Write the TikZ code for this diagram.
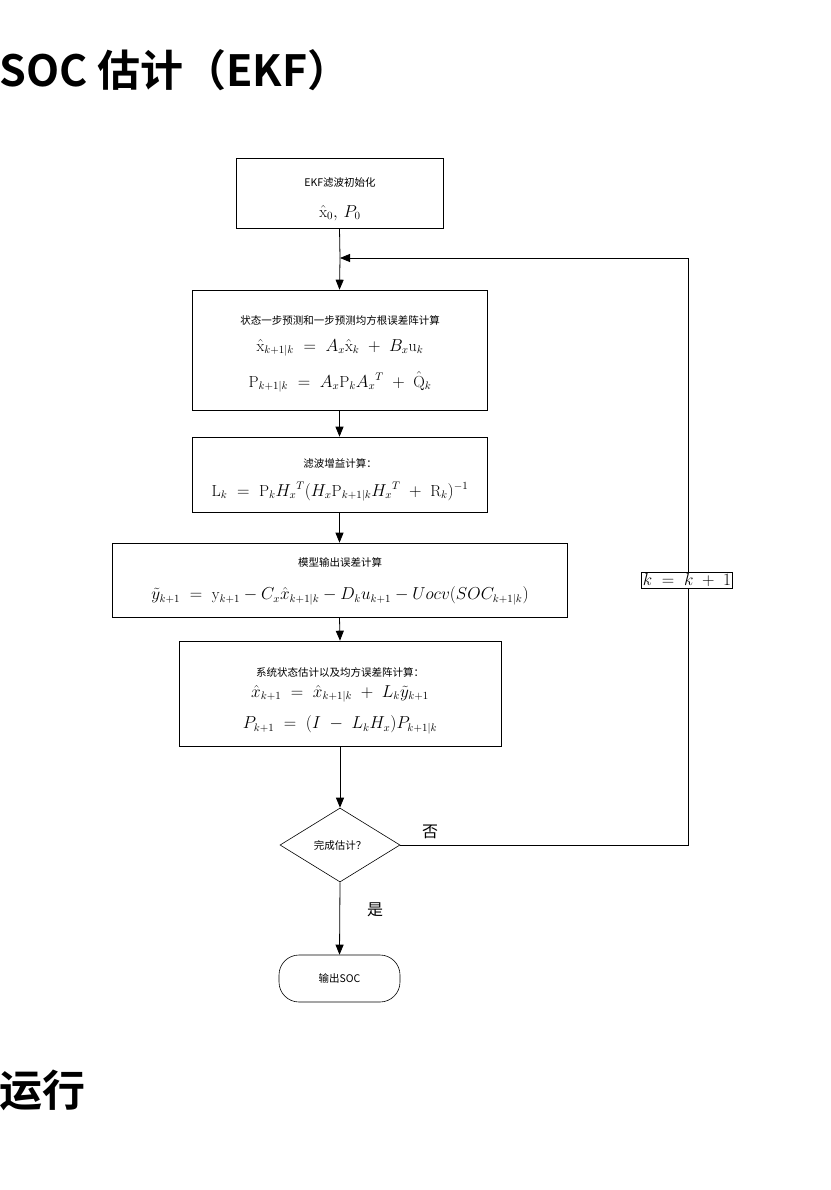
\documentclass[tikz,border=0pt]{standalone}
\usepackage{amsmath}
\usepackage{fontspec}
\newfontfamily\cjk{Noto Sans CJK SC}
\newfontfamily\cjkb{Noto Sans CJK SC Bold}
\usetikzlibrary{shapes.geometric,arrows.meta}
\begin{document}
\begin{tikzpicture}[x=1pt,y=-1pt,
  box/.style={draw,line width=0.6pt,rectangle,inner sep=0},
  lbl/.style={font=\cjk\fontsize{10.5}{12}\selectfont},
  eq/.style={font=\fontsize{16}{18}\selectfont},
  arr/.style={line width=0.8pt,-{Triangle[length=10pt,width=8pt]}},
  ttl/.style={font=\cjkb\fontsize{43}{46}\selectfont,anchor=west}]
\useasboundingbox (0,0) rectangle (830,1190);
\node[ttl] (t1) at (-4,70) {SOC 估计（EKF）};
\node[ttl] (t2) at (-4,1090) {运行};
% boxes
\node[box,minimum width=207,minimum height=70] (b1) at (339.5,193) {};
\node[lbl] (b1t) at (340,183) {EKF滤波初始化};
\node[eq] (b1e) at (340,213) {$\hat{\mathrm{x}}_0,\,P_0$};
\node[box,minimum width=295,minimum height=120] (b2) at (339.5,350) {};
\node[lbl] (b2t) at (340,320) {状态一步预测和一步预测均方根误差阵计算};
\node[eq] (b2e1) at (340,348) {$\hat{\mathrm{x}}_{k+1|k}\;=\;A_x\hat{\mathrm{x}}_k\;+\;B_x\mathrm{u}_k$};
\node[eq] (b2e2) at (340,382) {$\mathrm{P}_{k+1|k}\;=\;A_x\mathrm{P}_kA_x{}^T\;+\;\hat{\mathrm{Q}}_k$};
\node[box,minimum width=295,minimum height=75] (b3) at (339.5,474.5) {};
\node[lbl] (b3t) at (340,464) {滤波增益计算：};
\node[eq] (b3e) at (340,492) {$\mathrm{L}_k\;=\;\mathrm{P}_kH_x{}^T(H_x\mathrm{P}_{k+1|k}H_x{}^T\;+\;\mathrm{R}_k)^{-1}$};
\node[box,minimum width=455,minimum height=74] (b4) at (339.5,580) {};
\node[lbl] (b4t) at (340,562) {模型输出误差计算};
\node[eq] (b4e) at (340,596) {$\tilde{y}_{k+1}\;=\;\mathrm{y}_{k+1}-C_x\hat{x}_{k+1|k}-D_ku_{k+1}-Uocv(SOC_{k+1|k})$};
\node[box,minimum width=322,minimum height=105] (b5) at (340,693.5) {};
\node[lbl] (b5t) at (340,673) {系统状态估计以及均方误差阵计算：};
\node[eq] (b5e1) at (340,694) {$\hat{x}_{k+1}\;=\;\hat{x}_{k+1|k}\;+\;L_k\tilde{y}_{k+1}$};
\node[eq] (b5e2) at (340,725) {$P_{k+1}\;=\;(I\;-\;L_kH_x)P_{k+1|k}$};
\node[draw,line width=0.6pt,diamond,aspect=1.62,minimum width=120,minimum height=74,inner sep=0] (d) at (340,845) {};
\node[lbl] (dt) at (340,845) {完成估计？};
\node[draw,line width=0.6pt,rounded corners=20pt,minimum width=121,minimum height=47,font=\fontsize{10.5}{12}\selectfont] (end) at (339.5,978.5) {\cjk 输出SOC};
\coordinate (j) at (340,258);
\coordinate (c1) at (688,845);
\coordinate (c2) at (688,258);
\draw[line width=0.8pt] (b1.south) -- (j);
\draw[arr] (j) -- (b2.north);
\draw[arr] (b2.south) -- (b3.north);
\draw[arr] (b3.south) -- (b4.north);
\draw[arr] (b4.south) -- (b5.north);
\draw[arr] (b5.south) -- (d.north);
\draw[arr] (d.east) -- (c1) -- (c2) -- (j);
\draw[arr] (d.south) -- (end.north);
\node[draw,fill=white,line width=0.6pt,eq,inner sep=1.5pt] (kk) at (687,580) {$k\;=\;k\;+\;1$};
\node[font=\cjk\fontsize{16}{18}\selectfont] (no) at (430,832) {否};
\node[font=\cjk\fontsize{16}{18}\selectfont] (yes) at (375,910) {是};
\end{tikzpicture}
\end{document}
